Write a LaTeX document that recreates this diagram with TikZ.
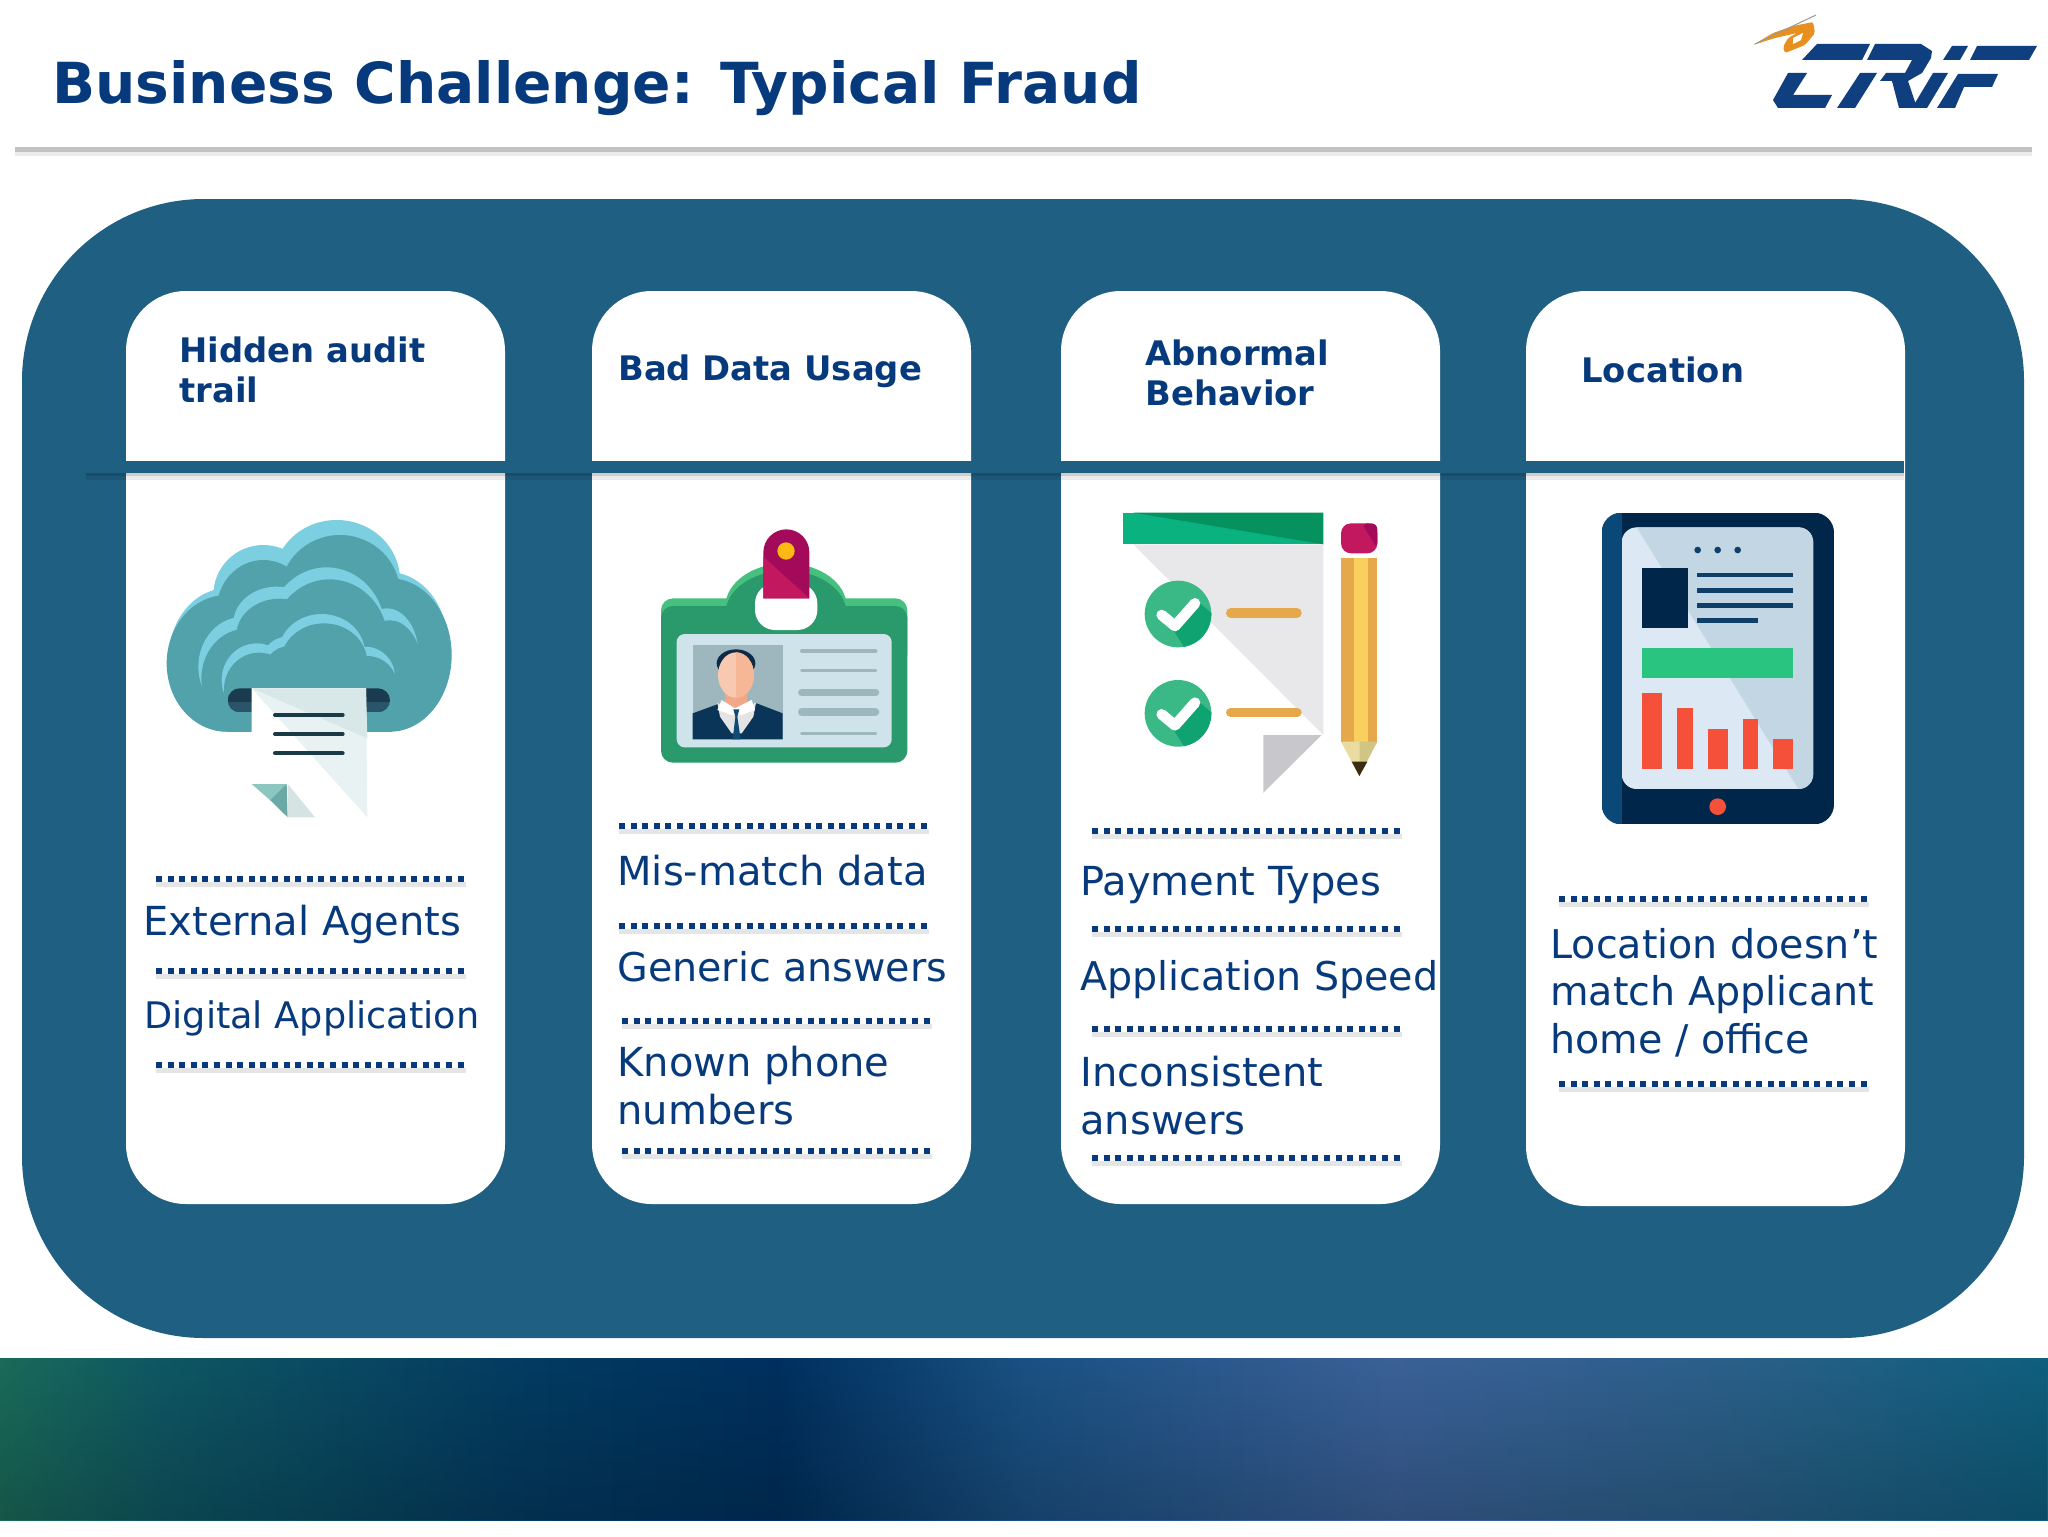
\documentclass[tikz,border=0pt]{standalone}
\usepackage{fontspec}
\setmainfont{DejaVu Sans}
\usetikzlibrary{fadings}

\definecolor{panelblue}{HTML}{1F5F82}
\definecolor{fraudnavy}{HTML}{063A7C}
\definecolor{logonavy}{HTML}{0F3F7F}
\definecolor{logoorange}{HTML}{E8901F}
\definecolor{bandA}{HTML}{1A6B5A}
\definecolor{bandB}{HTML}{0F5763}
\definecolor{bandC}{HTML}{043C62}
\definecolor{bandD}{HTML}{00305E}
\definecolor{bandE}{HTML}{1A5183}
\definecolor{bandF}{HTML}{3B6198}
\definecolor{bandG}{HTML}{2A6089}
\definecolor{bandH}{HTML}{0F5F7E}
\definecolor{cloudlight}{HTML}{7CCFE0}
\definecolor{clouddark}{HTML}{52A2AC}
\definecolor{cardgreen}{HTML}{2A9A6D}
\definecolor{cardlight}{HTML}{45C07F}
\definecolor{cardplate}{HTML}{CFE3EA}
\definecolor{cardgrey}{HTML}{9EB6BE}
\definecolor{tagdark}{HTML}{A30A5A}
\definecolor{taglight}{HTML}{C2185F}
\definecolor{listorange}{HTML}{E5A84B}
\definecolor{tabletdark}{HTML}{00264A}
\definecolor{tabletline}{HTML}{0E3F68}
\definecolor{barred}{HTML}{F4503A}

% the part of the shading that is seen runs from 25bp to 75bp
\pgfdeclarehorizontalshading{bandshade}{100bp}{
  color(0bp)=(bandA); color(25bp)=(bandA); color(29bp)=(bandB); color(37.5bp)=(bandC); color(44bp)=(bandD);
  color(50bp)=(bandE); color(59bp)=(bandF); color(67.5bp)=(bandG); color(75bp)=(bandH); color(100bp)=(bandH)}

\tikzset{
  hex/.code={\definecolor{hexcolor}{HTML}{#1}\tikzset{color=hexcolor}},
  headtext/.style={anchor=west,inner sep=0pt,text=fraudnavy,align=left,font=\bfseries\fontsize{16.9}{20.3}\selectfont},
  itemtext/.style={anchor=base west,inner sep=0pt,text=fraudnavy,align=left,font=\fontsize{20}{23.7}\selectfont},
  narrowtext/.style={itemtext,font=\fontsize{19.8}{23.7}\selectfont},
  dotline/.style={line width=3pt,draw=fraudnavy,dash pattern=on 3pt off 2.8pt},
  dotshadow/.style={line width=2.5pt,draw=black,opacity=.1},
  whitecard/.style={fill=white,rounded corners=30pt}
}

\begin{document}
\begin{tikzpicture}[x=0.5pt,y=-0.5pt]
  \useasboundingbox (0,0) rectangle (2048,1536);
  \fill[white] (0,0) rectangle (2048,1536);

  % top of the slide
  \node[anchor=base west,inner sep=0pt,text=fraudnavy,font=\bfseries\fontsize{28.3}{32}\selectfont](title) at (52,104){Business Challenge: Typical Fraud};
  \fill[black!24] (15,147) rectangle (2032,152);
  \fill[black!8] (15,152) rectangle (2032,156);

  % logo
  \fill[logoorange,rounded corners=1pt] (1753,45) -- (1773,33) -- (1793,26) -- (1813,22) -- (1815,33) -- (1805,45) -- (1785,53) -- (1783,47) -- (1788,38) -- (1797,33) -- (1775,38) -- cycle;
  \fill[white] (1793,38) -- (1803,33) -- (1801,40) -- (1793,44) -- cycle;
  \draw[black!40,line width=.5pt] (1755,44) -- (1816,15);
  \fill[logonavy] (1817,44) -- (1870,44) -- (1862,60) -- (1802,60) -- cycle;
  \fill[logonavy] (1788,73) -- (1807,73) -- (1793,95) -- (1832,95) -- (1825,108) -- (1778,108) -- (1773,100) -- cycle;
  \fill[logonavy] (1860,73) -- (1877,73) -- (1855,108) -- (1837,108) -- cycle;
  \fill[logonavy] (1875,44) -- (1921,44) -- (1932,51) -- (1931,58) -- (1922,73) -- (1908,81) -- (1917,108) -- (1899,108) -- (1892,81) -- (1880,81) -- (1886,73) -- (1905,73) -- (1912,60) -- (1867,60) -- cycle;
  \fill[logonavy] (1952,46) -- (1968,46) -- (1960,60) -- (1943,60) -- cycle;
  \fill[logonavy] (1933,73) -- (1948,73) -- (1927,108) -- (1912,108) -- cycle;
  \fill[logonavy] (1977,46) -- (2037,46) -- (2029,60) -- (1970,60) -- cycle;
  \fill[logonavy] (1958,74) -- (1998,74) -- (1992,87) -- (1964,87) -- (1955,108) -- (1937,108) -- cycle;

  % panel and cards
  \fill[panelblue,rounded corners=91pt] (22,199) rectangle (2024,1338);
  \foreach \cardx/\cardh in {126/913,592/913,1061/913,1526/915}{
    \fill[whitecard] (\cardx,291) rectangle ++(379,\cardh);
  }
  \fill[panelblue] (86,461) rectangle (1904,473);
  \fill[black,opacity=.2] (86,473) rectangle (1904,476);
  \fill[black,opacity=.08] (86,476) rectangle (1904,480);

  % bottom band
  \shade[shading=bandshade] (0,1358) rectangle (2048,1520);
  \fill[black,opacity=.2,path fading=north] (0,1358) rectangle (2048,1520);

  % headings
  \node[headtext](audit) at (179,370){Hidden audit\\trail};
  \node[headtext](baddata) at (618,371){Bad Data Usage};
  \node[headtext](abnormal) at (1145,373){Abnormal\\Behavior};
  \node[headtext](location) at (1581,370){Location};

  % items
  \node[itemtext](agents) at (143,935){External Agents};
  \node[itemtext,font=\fontsize{18.3}{22}\selectfont](digital) at (144,1028){Digital Application};
  \node[itemtext](mismatch) at (617,885){Mis-match data};
  \node[narrowtext](generic) at (617,981){Generic answers};
  \node[itemtext](phone) at (617,1124){Known phone\\numbers};
  \node[itemtext](payment) at (1080,895){Payment Types};
  \node[narrowtext](speed) at (1080,990){Application Speed};
  \node[itemtext](answers) at (1080,1134){Inconsistent\\answers};
  \node[narrowtext](doesnt) at (1550,1053){Location doesn’t\\match Applicant\\home / office};

  % dotted rules
  \foreach \dx/\dy in {156/879,156/971,156/1065,619/826,619/926,622/1021,622/1151,1092/831,1092/929,1092/1029,1092/1158,1559/899,1559/1084}{
    \draw[dotshadow] (\dx,\dy+5) -- ++(310,0);
    \draw[dotline] (\dx,\dy) -- ++(310,0);
  }

  % cloud icon
  \begin{scope}[shift={(120,480)},x=0.16667pt,y=-0.16667pt]
    \def\layertwo{620/450/175/188,470/430/130/110,370/560/135/150,800/520/95/135}
    \def\layerthree{605/520/130/118,500/560/80/90,410/600/105/110,735/590/90/90}
    \foreach \cx/\cy/\rx/\ry in {320/540/175/215,430/345/150/150,650/300/190/180,800/480/180/205}
      \fill[cloudlight] (\cx,\cy) ellipse [x radius=\rx,y radius=\ry];
    \foreach \cx/\cy/\rx/\ry in {320/550/180/205,430/390/140/150,660/340/180/175,810/525/185/230}
      \fill[clouddark] (\cx,\cy) ellipse [x radius=\rx,y radius=\ry];
    \fill[clouddark] (320,400) rectangle (810,755);
    \foreach \cx/\cy/\rx/\ry in \layertwo
      \fill[cloudlight] (\cx,\cy) ellipse [x radius=\rx,y radius=\ry];
    \begin{scope}[shift={(9,36)}]
      \foreach \cx/\cy/\rx/\ry in \layertwo
        \fill[clouddark] (\cx,\cy) ellipse [x radius=\rx,y radius=\ry];
    \end{scope}
    \foreach \cx/\cy/\rx/\ry in \layerthree
      \fill[cloudlight] (\cx,\cy) ellipse [x radius=\rx,y radius=\ry];
    \begin{scope}[shift={(7,28)}]
      \foreach \cx/\cy/\rx/\ry in \layerthree
        \fill[clouddark] (\cx,\cy) ellipse [x radius=\rx,y radius=\ry];
    \end{scope}
    \fill[clouddark] (330,640) rectangle (815,755);
    \begin{scope}
      \clip[rounded corners=6pt] (323,625) rectangle (810,697);
      \fill[hex=1B3C4E] (323,625) rectangle (810,665);
      \fill[hex=2A5468] (323,665) rectangle (810,697);
    \end{scope}
    \fill[white] (395,625) rectangle (738,755);
    \fill[white] (395,625) -- (395,912) -- (505,1012) -- (742,1012) -- cycle;
    \fill[hex=E8F2F3] (395,625) -- (738,625) -- (742,1012) -- cycle;
    \fill[hex=D8E8E9] (395,625) -- (738,625) -- (742,775) -- cycle;
    \fill[hex=8CC6C0] (395,912) -- (500,912) -- (450,960) -- cycle;
    \fill[hex=6AA9A5] (500,912) -- (450,960) -- (503,1012) -- cycle;
    \fill[hex=D5E3E3] (503,912) -- (585,1012) -- (503,1012) -- cycle;
    \foreach \ly in {705,762,820}
      \draw[hex=1B3A48,line width=2pt,line cap=round] (465,\ly) -- (668,\ly);
  \end{scope}

  % badge icon
  \begin{scope}[shift={(620,500)},x=0.16667pt,y=-0.16667pt]
    \fill[cardlight,rounded corners=6pt] (123,295) rectangle (862,500);
    \fill[cardlight] (498,320) ellipse [x radius=182,y radius=130];
    \fill[cardgreen,rounded corners=6pt] (123,318) rectangle (862,788);
    \fill[cardgreen] (498,342) ellipse [x radius=182,y radius=130];
    \fill[white,rounded corners=10pt] (405,250) rectangle (592,390);
    \fill[tagdark] (430,295) -- (430,157) arc [start angle=180,end angle=360,radius=69] -- (568,295) -- cycle;
    \fill[taglight] (430,170) -- (568,295) -- (430,295) -- cycle;
    \fill[hex=FDB913] (498,153) circle (26);
    \fill[cardplate,rounded corners=4pt] (170,402) rectangle (815,742);
    \fill[cardgrey] (218,436) rectangle (488,718);
    \begin{scope}
      \clip (218,436) rectangle (488,718);
      \fill[hex=0B3558] (218,640) -- (300,610) -- (410,610) -- (488,640) -- (488,718) -- (218,718) -- cycle;
      \fill[hex=F0A888] (315,570) rectangle (382,625);
      \fill[hex=E4E4E4] (292,608) -- (345,628) -- (408,608) -- (400,650) -- (365,700) -- (335,700) -- (300,650) -- cycle;
      \fill[white] (305,600) -- (345,625) -- (395,600) -- (405,630) -- (365,645) -- (335,645) -- (292,630) -- cycle;
      \fill[hex=0F4C75] (340,628) -- (358,628) -- (352,650) -- (362,718) -- (338,718) -- (346,650) -- cycle;
    \end{scope}
    \fill[hex=0E2A45] (348,490) ellipse [x radius=58,y radius=42];
    \fill[hex=F8C8B0] (348,525) ellipse [x radius=54,y radius=68];
    \begin{scope}
      \clip (348,450) rectangle (420,600);
      \fill[hex=F5B795] (348,525) ellipse [x radius=54,y radius=68];
    \end{scope}
    \foreach \ly/\lw in {453/1.7pt,512/1.7pt,577/3.6pt,636/3.6pt,700/1.7pt}
      \draw[cardgrey,line width=\lw,line cap=round] (545,\ly) -- (767,\ly);
  \end{scope}

  % checklist icon
  \begin{scope}[shift={(1090,490)},x=0.16667pt,y=-0.16667pt]
    \fill[hex=E8E8EA] (130,163) -- (700,163) -- (700,735) -- cycle;
    \fill[hex=C8C8CC] (520,735) -- (695,735) -- (520,908) -- cycle;
    \fill[hex=0AB27F] (98,68) rectangle (700,163);
    \fill[hex=05925F] (130,68) -- (700,68) -- (700,163) -- cycle;
    \foreach \cy in {372,670}{
      \fill[hex=3AB987] (264,\cy) circle (100);
      \begin{scope}
        \clip (264,\cy) circle (100);
        \fill[hex=0FA372] (250,\cy+48) -- (330,\cy-32) -- (400,\cy+28) -- (300,\cy+128) -- cycle;
      \end{scope}
      \draw[white,line width=5.3pt,line cap=round,line join=round] (215,\cy+3) -- (255,\cy+36) -- (315,\cy-32);
      \draw[listorange,line width=4.7pt,line cap=round] (422,\cy-3) -- (621,\cy-3);
    }
    \fill[taglight,rounded corners=5pt] (753,190) -- (753,100) -- (862,100) -- (862,190) -- cycle;
    \fill[tagdark,rounded corners=3pt] (815,100) -- (862,100) -- (862,175) -- cycle;
    \fill[listorange] (753,205) rectangle (862,755);
    \fill[hex=F9D060] (793,205) rectangle (835,755);
    \fill[hex=E9DCA0] (753,755) -- (808,755) -- (808,858) -- cycle;
    \fill[hex=D0C585] (808,755) -- (862,755) -- (808,858) -- cycle;
    \fill[hex=3A2C10] (785,815) -- (832,815) -- (808,858) -- cycle;
  \end{scope}

  % tablet icon
  \begin{scope}[shift={(1580,490)},x=0.16667pt,y=-0.16667pt]
    \begin{scope}
      \clip[rounded corners=10pt] (65,68) rectangle (762,1003);
      \fill[tabletdark] (65,68) rectangle (762,1003);
      \fill[hex=0A4878] (65,68) rectangle (125,1003);
    \end{scope}
    \begin{scope}
      \clip[rounded corners=7.5pt] (125,112) rectangle (700,897);
      \fill[hex=DCE9F5] (125,112) rectangle (700,897);
      \fill[hex=C2D6E3] (170,112) -- (655,897) -- (700,897) -- (700,112) -- cycle;
    \end{scope}
    \foreach \dotx in {353,413,473}
      \fill[tabletline] (\dotx,180) circle (10);
    \fill[tabletdark] (186,233) rectangle (323,415);
    \foreach \ly/\lx in {255/640,301/640,347/640,392/535}
      \draw[tabletline,line width=2.4pt] (352,\ly) -- (\lx,\ly);
    \fill[hex=28C480] (186,475) rectangle (640,565);
    \foreach \bl/\bt/\br in {186/610/247,292/655/338,383/717/444,489/686/535,580/747/640}
      \fill[barred] (\bl,\bt) rectangle (\br,838);
    \fill[barred] (413,950) circle (25);
  \end{scope}
\end{tikzpicture}
\end{document}
